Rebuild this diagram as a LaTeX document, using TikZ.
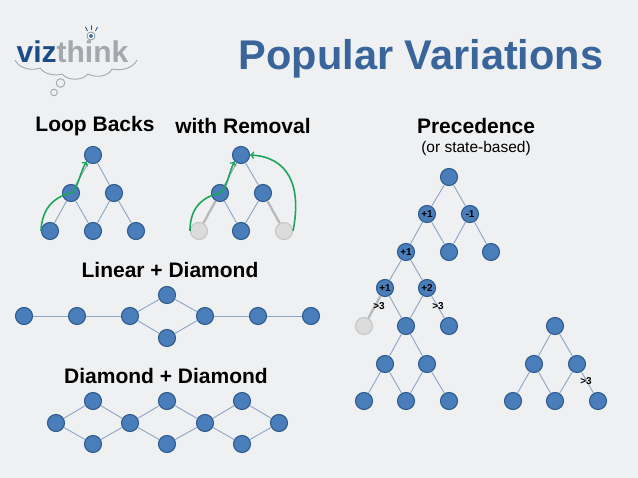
\documentclass[tikz,border=0pt]{standalone}
\usepackage{fontspec}
\setmainfont{Liberation Sans}
\definecolor{slidebg}{HTML}{EEF0F2}
\definecolor{nodeblue}{HTML}{4A7EBB}
\definecolor{nodeline}{HTML}{2F5B8E}
\definecolor{edgeblue}{HTML}{8DA4C4}
\definecolor{loopgreen}{HTML}{1FA45C}
\definecolor{titleblue}{HTML}{3A659B}
\definecolor{vizblue}{HTML}{1B4C86}
\definecolor{thinkgrey}{HTML}{A2A8AE}
\tikzset{
  vertex/.style={circle, draw=nodeline, fill=nodeblue, line width=1.1pt, minimum size=17pt, inner sep=0pt, font=\bfseries\fontsize{10}{10}\selectfont},
  removed/.style={vertex, draw=black!22, fill=black!14},
  edge/.style={draw=edgeblue, line width=0.9pt},
  cut/.style={draw=black!27, line width=2.4pt},
  loopback/.style={->, draw=loopgreen, line width=1.6pt},
  heading/.style={font=\bfseries\fontsize{21}{21}\selectfont},
  limit/.style={font=\bfseries\fontsize{10}{10}\selectfont}
}
\begin{document}
\begin{tikzpicture}[x=1pt, y=-1pt]
  \useasboundingbox[fill=slidebg] (0,0) rectangle (638,478);

  % logo
  \node[inner sep=0pt, font=\bfseries\fontsize{30}{30}\selectfont] (logotext) at (72.5,52) {\textcolor{vizblue}{viz}\textcolor{thinkgrey}{think}};
  \draw[thinkgrey, line width=0.9pt] (15,60) .. controls (19,69) and (33,71) .. (40,68)
    .. controls (45,75) and (56,76) .. (62,74) .. controls (68,81) and (82,81) .. (88,74)
    .. controls (95,78) and (108,77) .. (112,69) .. controls (120,71) and (133,69) .. (137,60);
  \draw[thinkgrey, line width=0.9pt] (60.5,83) circle (4.3pt) (54,92.5) circle (3.3pt);
  \draw[thinkgrey!80!vizblue, fill=white, line width=0.8pt] (91,36) circle (4pt);
  \fill[vizblue!80] (91,36) circle (2pt);
  \draw[vizblue, line width=0.8pt] (85.5,27) -- (87.5,31) (91.5,25.5) -- (91.5,30) (97.5,27) -- (95.5,31);

  % title and headings
  \node[font=\bfseries\fontsize{41.5}{41.5}\selectfont, text=titleblue] (title) at (421,59) {Popular Variations};
  \node[heading] (loopbacks) at (95,126) {Loop Backs};
  \node[heading] (withremoval) at (243,126) {with Removal};
  \node[heading] (precedence) at (476,126) {Precedence};
  \node[font=\fontsize{15.5}{15.5}\selectfont] (statebased) at (476,148) {(or state-based)};
  \node[heading] (lineardiamond) at (170,270) {Linear + Diamond};
  \node[heading] (diamonddiamond) at (166,376) {Diamond + Diamond};

  % loop backs
  \foreach \name/\x/\y in {a/93/155, b/71/193, c/114/193, d/50/231, e/93/231, f/136/231}
    \node[vertex] (l\name) at (\x,\y) {};
  \foreach \from/\to in {a/b, a/c, b/d, b/e, c/e, c/f}
    \draw[edge] (l\from) -- (l\to);
  \draw[loopback] (ld.west) .. controls (42,208) and (54,197) .. (lb.center)
    .. controls (78,189) and (80,172) .. (la.south west);

  % with removal
  \foreach \name/\x/\y in {a/241/155, b/220/193, c/263/193, e/241/231}
    \node[vertex] (r\name) at (\x,\y) {};
  \foreach \name/\x/\y in {d/199/231, f/284/231}
    \node[removed] (r\name) at (\x,\y) {};
  \foreach \from/\to in {a/b, a/c, b/e, c/e}
    \draw[edge] (r\from) -- (r\to);
  \foreach \from/\to in {b/d, c/f}
    \draw[cut] (r\from) -- (r\to);
  \draw[loopback] (rd.west) .. controls (190,208) and (202,197) .. (rb.center)
    .. controls (227,189) and (229,172) .. (ra.south west);
  \draw[loopback] (rf.east) .. controls (302,185) and (288,157) .. (ra.east);

  % linear + diamond
  \foreach \name/\x/\y in {a/24/316, b/77/316, c/130/316, d/167/295, e/167/338, f/205/316, g/258/316, h/311/316}
    \node[vertex] (m\name) at (\x,\y) {};
  \foreach \from/\to in {a/b, b/c, c/d, c/e, d/f, e/f, f/g, g/h}
    \draw[edge] (m\from) -- (m\to);

  % diamond + diamond
  \foreach \name/\x/\y in {a/56/423, b/93/401, c/93/444, d/130/423, e/167/401, f/167/444, g/205/423, h/242/401, i/242/444, j/279/423}
    \node[vertex] (d\name) at (\x,\y) {};
  \foreach \from/\to in {a/b, a/c, b/d, c/d, d/e, d/f, e/g, f/g, g/h, g/i, h/j, i/j}
    \draw[edge] (d\from) -- (d\to);

  % precedence
  \foreach \name/\x/\y/\val in {a/449/177/, b/427/214/+1, c/470/214/-1, d/406/252/+1, e/449/252/, f/491/252/, g/385/288/+1, h/427/288/+2, j/406/326/, k/449/326/, l/385/364/, m/427/364/, n/364/401/, o/406/401/, p/449/401/}
    \node[vertex] (p\name) at (\x,\y) {\val};
  \node[removed] (pi) at (364,326) {};
  \foreach \from/\to in {a/b, a/c, b/d, b/e, c/e, c/f, d/g, d/h, g/j, h/j, h/k, j/l, j/m, l/n, l/o, m/o, m/p}
    \draw[edge] (p\from) -- (p\to);
  \draw[cut] (pg) -- (pi);
  \node[limit] (pgi) at (379,306) {>3};
  \node[limit] (phk) at (438,306) {>3};

  % right tree
  \foreach \name/\x/\y in {a/555/326, b/534/364, c/577/364, d/513/401, e/555/401, f/598/401}
    \node[vertex] (t\name) at (\x,\y) {};
  \foreach \from/\to in {a/b, a/c, b/d, b/e, c/e, c/f}
    \draw[edge] (t\from) -- (t\to);
  \node[limit] (tcf) at (586,381) {>3};
\end{tikzpicture}
\end{document}
